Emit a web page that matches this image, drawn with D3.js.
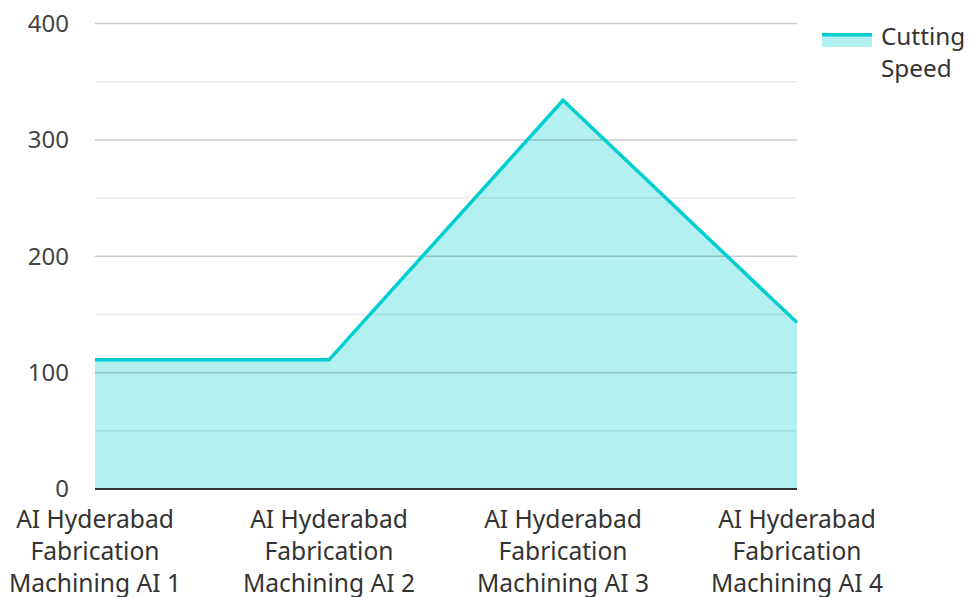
<!DOCTYPE html>
<html>
<head>
<meta charset="utf-8">
<script src="https://cdn.jsdelivr.net/npm/d3@7"></script>
<style>
  body { margin: 0; background: #fff; }
  svg { display: block; font-family: "Noto Sans", sans-serif; }
</style>
</head>
<body>
<div id="chart"></div>
<script>
const categories = [
  "AI Hyderabad Fabrication Machining AI 1",
  "AI Hyderabad Fabrication Machining AI 2",
  "AI Hyderabad Fabrication Machining AI 3",
  "AI Hyderabad Fabrication Machining AI 4"
];
const labelLines = [
  ["AI Hyderabad", "Fabrication", "Machining AI 1"],
  ["AI Hyderabad", "Fabrication", "Machining AI 2"],
  ["AI Hyderabad", "Fabrication", "Machining AI 3"],
  ["AI Hyderabad", "Fabrication", "Machining AI 4"]
];
const cuttingSpeed = [111, 111, 334, 143];
const seriesName = ["Cutting", "Speed"];
const majorTicks = [0, 100, 200, 300, 400];
const minorTicks = [50, 150, 250, 350];

const width = 970, height = 597;
const margin = { top: 23.5, right: 173, bottom: 108, left: 95 };

const svg = d3.select("#chart").append("svg")
  .attr("width", width)
  .attr("height", height);

const x = d3.scalePoint()
  .domain(categories)
  .range([margin.left, width - margin.right]);

const y = d3.scaleLinear()
  .domain([0, 400])
  .range([height - margin.bottom, margin.top]);

const color = "#00ced1";

// area
const area = d3.area()
  .x((d, i) => x(categories[i]))
  .y0(y(0))
  .y1(d => y(d));

svg.append("path")
  .datum(cuttingSpeed)
  .attr("fill", color)
  .attr("fill-opacity", 0.3)
  .attr("d", area);

// gridlines
svg.append("g")
  .selectAll("line")
  .data(minorTicks)
  .join("line")
  .attr("x1", margin.left)
  .attr("x2", width - margin.right)
  .attr("y1", d => y(d))
  .attr("y2", d => y(d))
  .attr("stroke", "#000")
  .attr("stroke-opacity", 0.08)
  .attr("stroke-width", 1.5);

svg.append("g")
  .selectAll("line")
  .data(majorTicks.filter(d => d > 0))
  .join("line")
  .attr("x1", margin.left)
  .attr("x2", width - margin.right)
  .attr("y1", d => y(d))
  .attr("y2", d => y(d))
  .attr("stroke", "#000")
  .attr("stroke-opacity", 0.2)
  .attr("stroke-width", 1.5);

// line
const line = d3.line()
  .x((d, i) => x(categories[i]))
  .y(d => y(d));

svg.append("path")
  .datum(cuttingSpeed)
  .attr("fill", "none")
  .attr("stroke", color)
  .attr("stroke-width", 3.5)
  .attr("d", line);

// baseline
svg.append("line")
  .attr("x1", margin.left)
  .attr("x2", width - margin.right)
  .attr("y1", y(0))
  .attr("y2", y(0))
  .attr("stroke", "#333")
  .attr("stroke-width", 2);

// y labels
svg.append("g")
  .selectAll("text")
  .data(majorTicks)
  .join("text")
  .attr("x", 69)
  .attr("y", d => y(d))
  .attr("dy", "0.35em")
  .attr("text-anchor", "end")
  .attr("fill", "#444")
  .style("font-size", "24px")
  .text(d => d);

// x labels
const xl = svg.append("g")
  .selectAll("text")
  .data(categories)
  .join("text")
  .attr("x", d => x(d))
  .attr("y", 519)
  .attr("text-anchor", "middle")
  .attr("fill", "#333")
  .style("font-size", "24.6px");

xl.selectAll("tspan")
  .data((d, i) => labelLines[i])
  .join("tspan")
  .attr("x", function () { return d3.select(this.parentNode).attr("x"); })
  .attr("y", (d, i) => 519 + i * 32)
  .attr("dy", "0.35em")
  .text(d => d);

// legend
const lg = svg.append("g");
lg.append("rect")
  .attr("x", 822).attr("y", 33)
  .attr("width", 50).attr("height", 14)
  .attr("fill", color).attr("fill-opacity", 0.3);
lg.append("rect")
  .attr("x", 822).attr("y", 33)
  .attr("width", 50).attr("height", 3.5)
  .attr("fill", color);
lg.append("text")
  .attr("x", 881)
  .attr("fill", "#333")
  .style("font-size", "24.3px")
  .selectAll("tspan")
  .data(seriesName)
  .join("tspan")
  .attr("x", 881)
  .attr("y", (d, i) => 36 + i * 32)
  .attr("dy", "0.35em")
  .text(d => d);
</script>
</body>
</html>
